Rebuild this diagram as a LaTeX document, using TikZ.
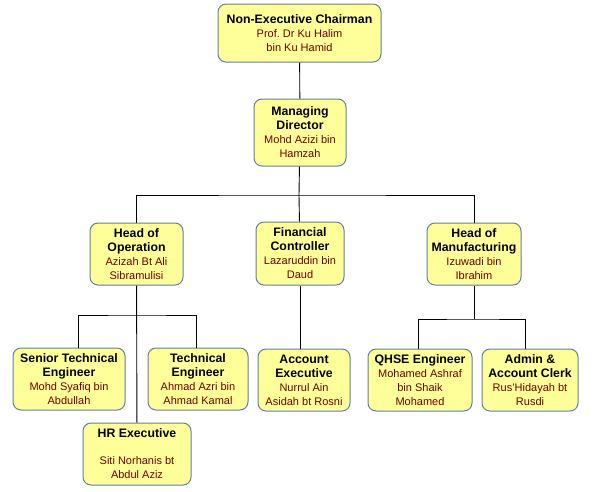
\documentclass[tikz,border=0pt]{standalone}
\usepackage{fontspec}
\setmainfont{Liberation Sans}
\frenchspacing
\definecolor{boxfill}{RGB}{255,255,153}
\definecolor{boxline}{RGB}{98,128,160}
\definecolor{namered}{RGB}{110,0,0}
\newcommand{\who}{\fontsize{11}{13}\selectfont\mdseries\color{namered}}
\tikzset{
  post/.style={draw=boxline, fill=boxfill, rounded corners=8pt, line width=1pt,
    align=center, inner sep=2pt, font=\fontsize{12.3}{14}\selectfont\bfseries},
  link/.style={line width=0.9pt}
}
\begin{document}
\begin{tikzpicture}[x=1pt,y=-1pt]
                \useasboundingbox (0,0) rectangle (592,491);
                % top levels
                \node[post, minimum width=163pt, minimum height=58pt] (NEC) at (299.5,33) {Non-Executive Chairman\\\who Prof. Dr Ku Halim\\\who bin Ku Hamid};
                \node[post, minimum width=92pt, minimum height=67pt] (MD) at (300,132.5) {Managing\\Director\\\who Mohd Azizi bin\\\who Hamzah};
                \node[post, minimum width=93pt, minimum height=62pt] (HOO) at (136.5,254) {Head of\\Operation\\\who Azizah Bt Ali\\\who Sibramulisi};
                \node[post, minimum width=88pt, minimum height=63pt] (FC) at (300,253.5) {Financial\\Controller\\\who Lazaruddin bin\\\who Daud};
                \node[post, minimum width=94pt, minimum height=62pt] (HOM) at (474,254) {Head of\\Manufacturing\\\who Izuwadi bin\\\who Ibrahim};
                % bottom level
                \node[post, minimum width=112pt, minimum height=62pt] (STE) at (69,379) {Senior Technical\\Engineer\\\who Mohd Syafiq bin\\\who Abdullah};
                \node[post, minimum width=100pt, minimum height=62pt] (TE) at (198,379) {Technical\\Engineer\\\who Ahmad Azri bin\\\who Ahmad Kamal};
                \node[post, minimum width=108pt, minimum height=62pt] (HRE) at (137,454) {HR Executive\\[13pt]\who Siti Norhanis bt\\\who Abdul Aziz};
                \node[post, minimum width=92pt, minimum height=62pt] (AE) at (304,380) {Account\\Executive\\\who Nurrul Ain\\\who Asidah bt Rosni};
                \node[post, minimum width=104pt, minimum height=62pt] (QHSE) at (420,380) {QHSE Engineer\\\who Mohamed Ashraf\\\who bin Shaik\\\who Mohamed};
                \node[post, minimum width=96pt, minimum height=62pt] (AAC) at (530,380) {Admin \&\\Account Clerk\\\who Rus'Hidayah bt\\\who Rusdi};
                % junctions
                \coordinate (J1) at (299,195);
                \coordinate (J2) at (137,315);
                \coordinate (J3) at (474,319);
                \draw[link] (NEC) -- (MD);
                \draw[link] (MD) -- (J1);
                \draw[link] (HOO.north) |- (J1) -| (HOM.north);
                \draw[link] (J1) -- (FC);
                \draw[link] (HOO) -- (HRE);
                \draw[link] ([xshift=9pt]STE.north) |- (J2) -| ([xshift=-2pt]TE.north);
                \draw[link] (FC.south) -- (FC.south |- AE.north);
                \draw[link] (HOM) -- (J3);
                \draw[link] ([xshift=-2pt]QHSE.north) |- (J3) -| ([xshift=-5pt]AAC.north);
            \end{tikzpicture}
\end{document}
